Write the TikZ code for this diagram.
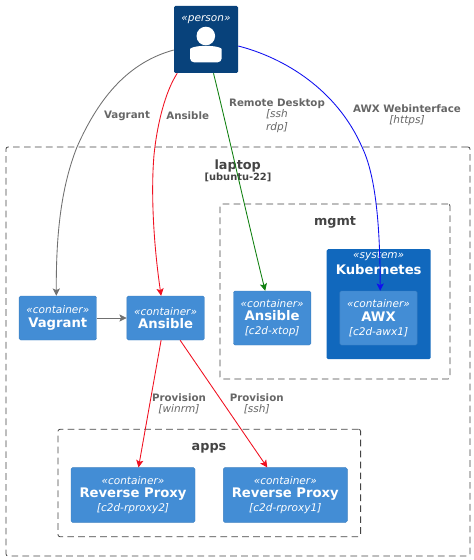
\documentclass[tikz,border=0pt]{standalone}
\usepackage{fontspec}
\setmainfont{DejaVu Sans}
\usetikzlibrary{arrows.meta,calc}
\definecolor{persc}{HTML}{08427B}
\definecolor{sysc}{HTML}{1168BD}
\definecolor{contc}{HTML}{438DD5}
\definecolor{bound}{HTML}{444444}
\definecolor{lab}{HTML}{666666}
\definecolor{grayc}{HTML}{707070}
\definecolor{redc}{HTML}{F01020}
\definecolor{greenc}{HTML}{108010}
\definecolor{bluec}{HTML}{1010F0}
\newcommand{\stereo}[1]{{\fontsize{7.9}{10.3}\selectfont\itshape «#1»}}
\newcommand{\ttl}[1]{{\fontsize{9.9}{10.3}\selectfont\bfseries #1}}
\newcommand{\tech}[1]{{\fontsize{7.9}{10.3}\selectfont\itshape [#1]}}
\tikzset{
  boxbase/.style={rectangle,rounded corners=1.1pt,inner sep=0pt,text=white,align=center,font=\fontsize{7.9}{10.3}\selectfont},
  cont/.style={boxbase,fill=contc,draw=contc!90!black,line width=.3pt},
  boundary/.style={rectangle,draw=bound,line width=.6pt,dash pattern=on 5pt off 3.2pt,rounded corners=1.5pt,inner sep=0pt},
  btitle/.style={text=bound,font=\fontsize{9.6}{11}\selectfont\bfseries,inner sep=0pt},
  conn/.style={line width=.65pt,-{Stealth[length=5.5pt,width=5.4pt,inset=1.2pt]}},
  elab/.style={text=lab,align=center,inner sep=0pt,font=\fontsize{7.7}{8.4}\selectfont},
}
\newcommand{\elabel}[2]{{\bfseries #1}\\{\itshape\fontsize{7.9}{8.4}\selectfont #2}}
\begin{document}
\begin{tikzpicture}[x=.75pt,y=-.75pt]
\useasboundingbox (0,0) rectangle (474,560);
\node[boundary,minimum width=348pt,minimum height=306.75pt] (laptop) at (238,351.5) {};
\node[btitle] (laptopt) at (237.7,165.5) {laptop};
\node[btitle,font=\fontsize{7.4}{9}\selectfont\bfseries] (laptopu) at (238,177.5) {[ubuntu-22]};
\node[boundary,minimum width=172.5pt,minimum height=131.25pt] (mgmt) at (335,291.5) {};
\node[btitle] (mgmtt) at (335,222) {mgmt};
\node[boundary,minimum width=227pt,minimum height=80.5pt] (apps) at (209.3,483) {};
\node[btitle] (appst) at (209,448) {apps};

\node[boxbase,fill=persc,minimum width=48pt,minimum height=50.25pt] (person) at (206,39.5) {};
\node[text=white,inner sep=0pt,font=\fontsize{7.9}{9}\selectfont\itshape] (persont) at (206,20) {«person»};
\fill[white] (205.8,36) circle (9.3);
\fill[white,rounded corners=3pt] (190,62.3) -- (190,53) .. controls (190,48) and (196,46) .. (205.8,46) .. controls (216,46) and (221.7,48) .. (221.7,53) -- (221.7,62.3) -- cycle;

\node[boxbase,fill=sysc,minimum width=78pt,minimum height=82.5pt] (kube) at (378.7,304.2) {};
\node[text=white,inner sep=0pt,font=\fontsize{7.9}{9}\selectfont\itshape] (kubes) at (378.7,256) {«system»};
\node[text=white,inner sep=0pt,font=\fontsize{9.9}{11}\selectfont\bfseries] (kubet) at (378.7,269.5) {Kubernetes};
\node[cont,minimum width=58pt,minimum height=40.5pt] (awx) at (378.5,318) {\stereo{container}\\\ttl{AWX}\\\tech{c2d-awx1}};
\node[cont,minimum width=58pt,minimum height=40.5pt] (xtop) at (272.2,318) {\stereo{container}\\\ttl{Ansible}\\\tech{c2d-xtop}};
\node[cont,minimum width=58pt,minimum height=33pt] (vagrant) at (57.8,318) {\stereo{container}\\\ttl{Vagrant}};
\node[cont,minimum width=58pt,minimum height=33pt] (ansible) at (165.6,318) {\stereo{container}\\\ttl{Ansible}};
\node[cont,minimum width=93pt,minimum height=41pt] (rp2) at (133,495) {\stereo{container}\\\ttl{Reverse Proxy}\\\tech{c2d-rproxy2}};
\node[cont,minimum width=93pt,minimum height=41pt] (rp1) at (285.3,495) {\stereo{container}\\\ttl{Reverse Proxy}\\\tech{c2d-rproxy1}};

\draw[conn,grayc] ($(person.west)+(0,10.5)$) .. controls (130,62) and (100,95) .. (77,147) .. controls (62,185) and (56,230) .. ($(vagrant.north)+(-1.5,0)$);
\draw[conn,redc] ($(person.south west)+(3.5,0)$) .. controls (165,92) and (157,125) .. (154,155) .. controls (151,190) and (153,240) .. ($(ansible.north)+(-4.5,0)$);
\draw[conn,greenc] ($(person.south)+(7.5,0)$) .. controls (228,132) and (250,230) .. ($(xtop.north)+(-7,0)$);
\draw[conn,bluec] ($(person.east)+(0,6.5)$) .. controls (285,58) and (337,90) .. (362,147) .. controls (374,172) and (380,215) .. ($(awx.north)+(1.7,0)$);
\draw[conn,grayc] (vagrant.east) -- (ansible.west);
\draw[conn,redc] ($(ansible.south)+(-4.5,0)$) -- ($(rp2.north)+(5.5,0)$);
\draw[conn,redc] ($(ansible.south)+(14.5,0)$) -- ($(rp1.north)+(-18,0)$);

\node[elab] (lvag) at (127,115.7) {\bfseries Vagrant};
\node[elab] (lans) at (187.7,115.7) {\bfseries Ansible};
\node[elab,anchor=north] (lrem) at (277,98.5) {\elabel{Remote Desktop}{[ssh}\\[1.5pt]{\itshape\fontsize{7.9}{8.4}\selectfont rdp]}};
\node[elab] (lawx) at (407,115.5) {\elabel{AWX Webinterface}{[https]}};
\node[elab] (lprw) at (179,404) {\elabel{Provision}{[winrm]}};
\node[elab] (lprs) at (256.7,404) {\elabel{Provision}{[ssh]}};
\end{tikzpicture}
\end{document}
